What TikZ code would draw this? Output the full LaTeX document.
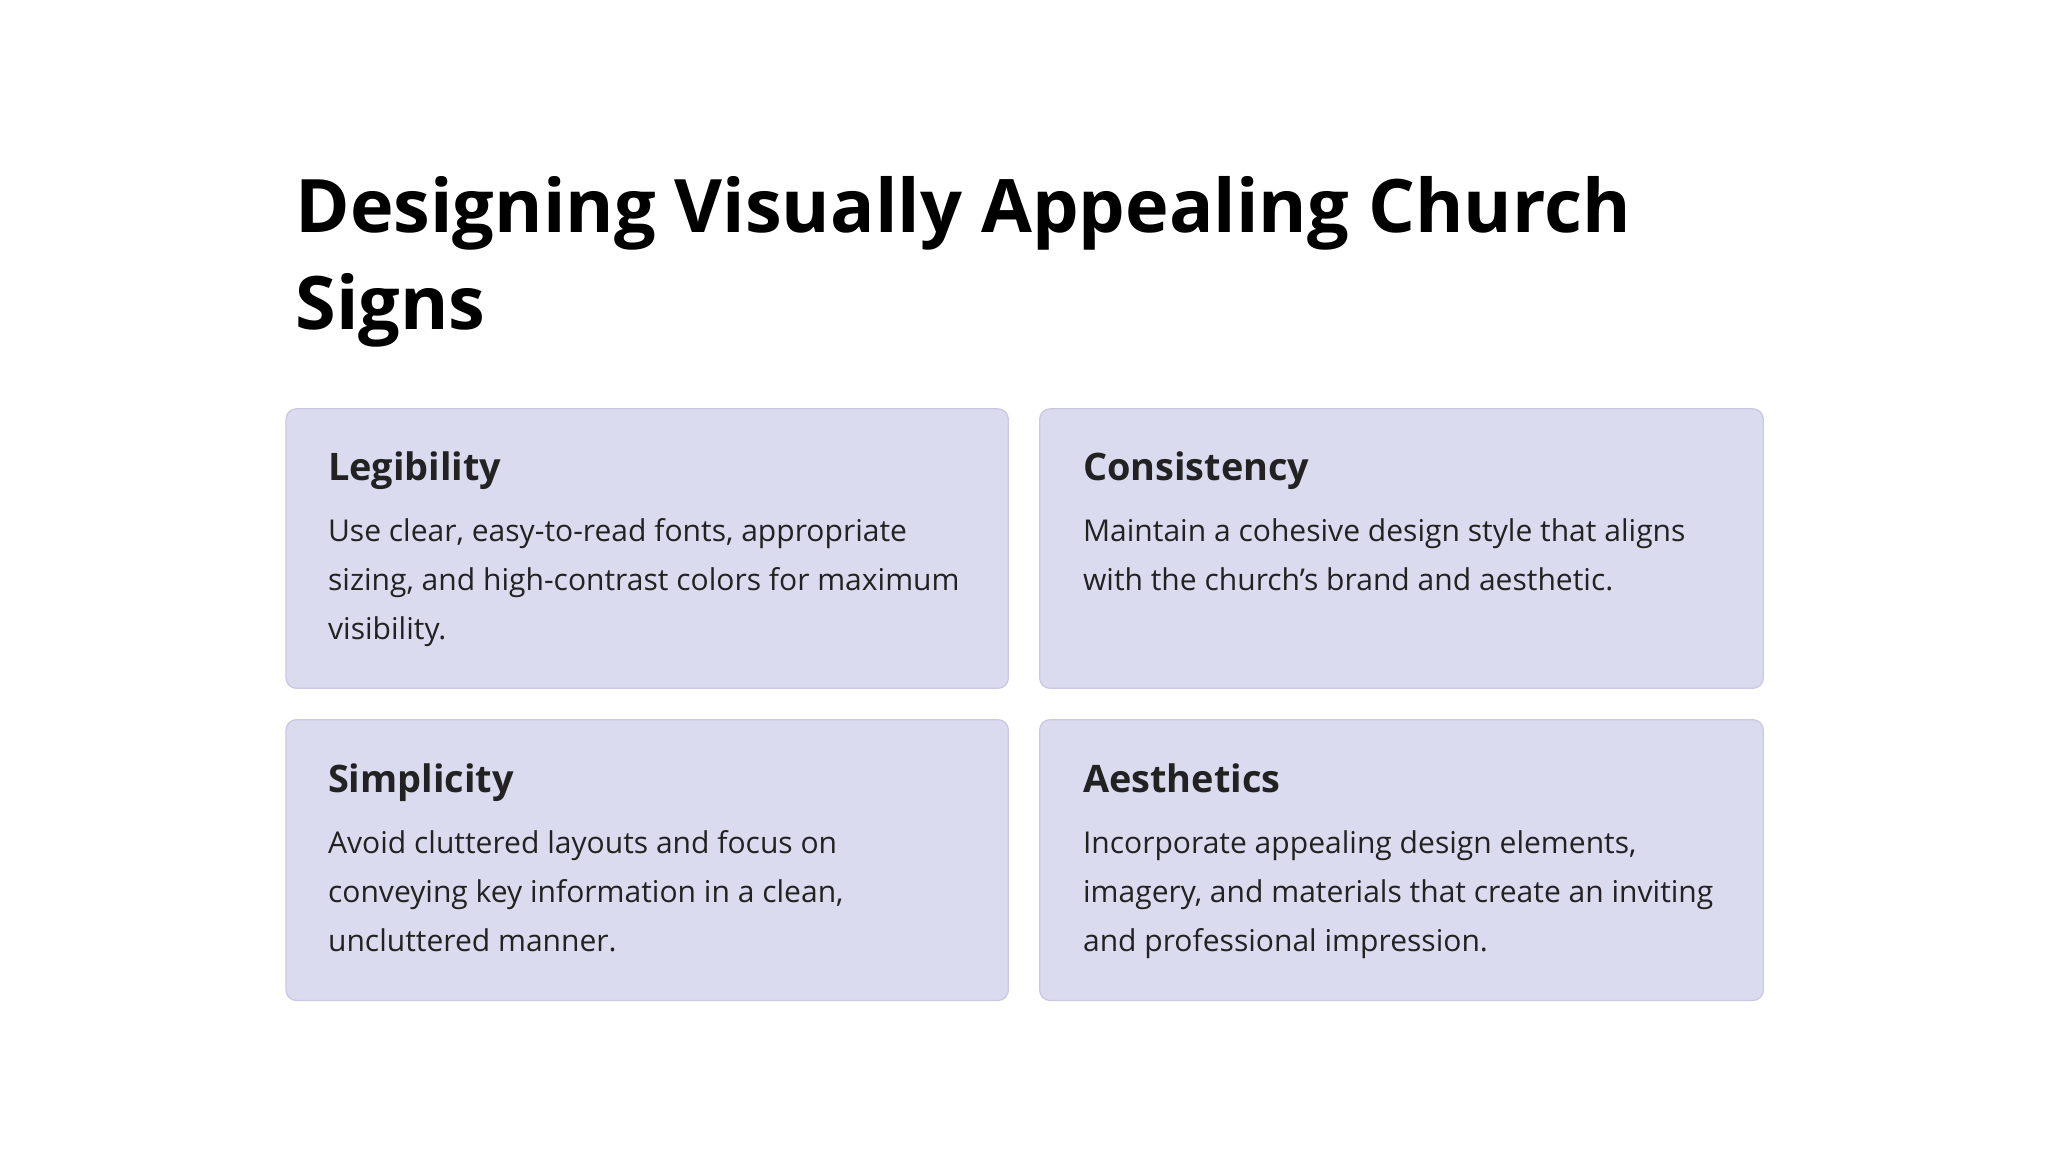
\documentclass[tikz,border=0pt]{standalone}
\usepackage{fontspec}
\setmainfont{Open Sans}
\definecolor{boxfill}{HTML}{DBDBF0}
\definecolor{boxline}{HTML}{C9C9E2}
\definecolor{txt}{HTML}{222222}
\begin{document}
\begin{tikzpicture}[x=1pt,y=-1pt,
  card/.style={draw=boxline,fill=boxfill,rounded corners=8pt,line width=1pt},
  head/.style={anchor=base west,inner sep=0,text=txt,font=\fontsize{29}{36}\selectfont\bfseries},
  body/.style={anchor=north west,inner sep=0,text=txt,align=left,font=\fontsize{23}{37.5}\selectfont}]
\useasboundingbox[fill=white] (0,0) rectangle (1568,882);
\node[anchor=base west,inner sep=0,align=left,font=\fontsize{56.5}{74}\selectfont\bfseries] (title) at (226,252) {Designing Visually Appealing Church\\Signs};
\draw[card] (219,313) rectangle (772,527);
\draw[card] (796,313) rectangle (1350,527);
\draw[card] (219,551) rectangle (772,766);
\draw[card] (796,551) rectangle (1350,766);
\node[head] (h1) at (251,368) {Legibility};
\node[head] (h2) at (829,368) {Consistency};
\node[head] (h3) at (251,607) {Simplicity};
\node[head] (h4) at (829,607) {Aesthetics};
\node[body] (b1) at (251,397) {Use clear, easy-to-read fonts, appropriate\\sizing, and high-contrast colors for maximum\\visibility.};
\node[body] (b2) at (829,397) {Maintain a cohesive design style that aligns\\with the church's brand and aesthetic.};
\node[body] (b3) at (251,636) {Avoid cluttered layouts and focus on\\conveying key information in a clean,\\uncluttered manner.};
\node[body] (b4) at (829,636) {Incorporate appealing design elements,\\imagery, and materials that create an inviting\\and professional impression.};
\end{tikzpicture}
\end{document}
